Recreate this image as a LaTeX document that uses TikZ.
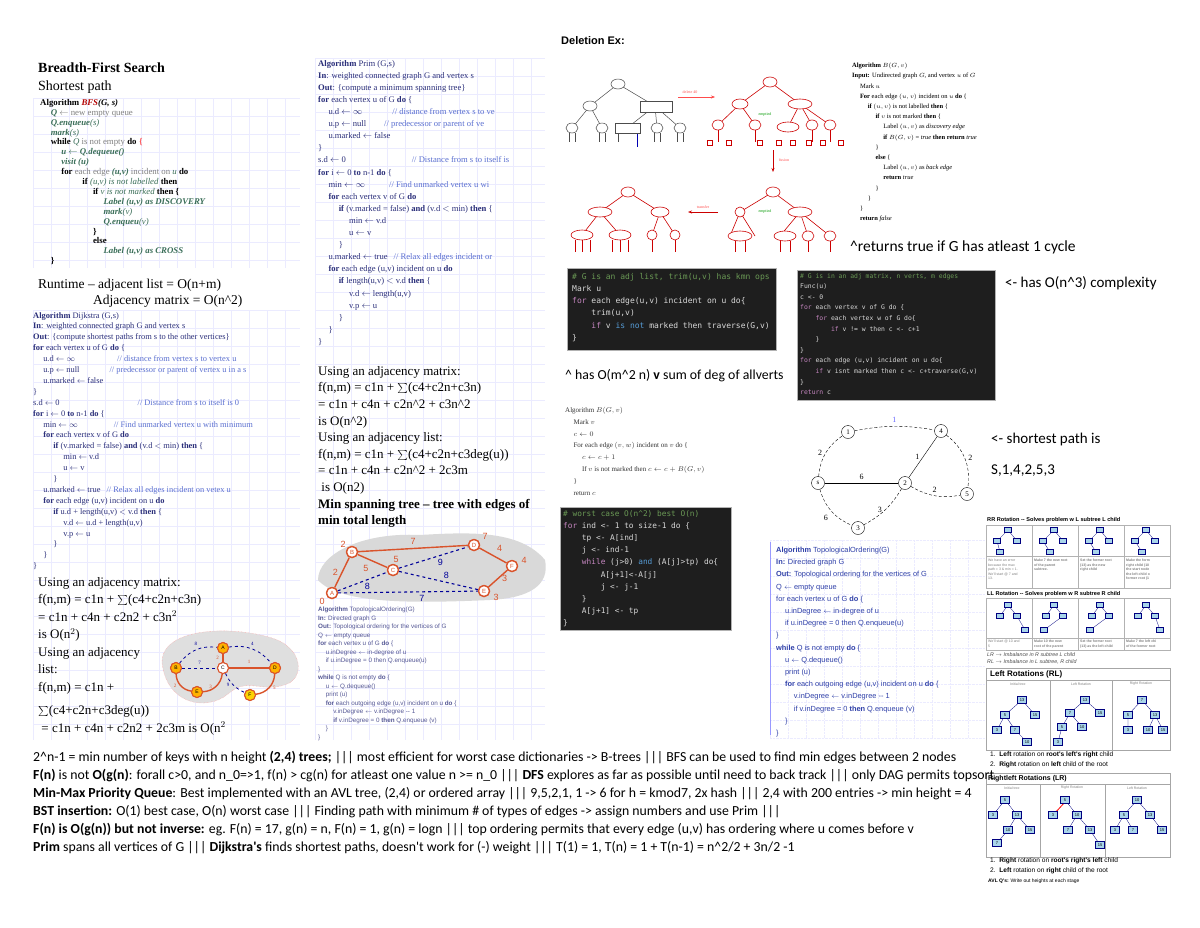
\documentclass[tikz,border=0pt]{standalone}
\usepackage{fontspec}
\setmainfont{Liberation Serif}
\newfontfamily\calfont{Carlito}
\newfontfamily\lsans{Liberation Sans}
\newfontfamily\mono{DejaVu Sans Mono}
\usetikzlibrary{arrows.meta}
\definecolor{navy}{HTML}{2B2F7A}
\definecolor{cmt}{HTML}{5A6FD0}
\definecolor{bfsg}{HTML}{3A6E58}
\definecolor{codebg}{HTML}{1E1E1E}
\definecolor{cgreen}{HTML}{6A9955}
\definecolor{ckey}{HTML}{C586C0}
\definecolor{cblue}{HTML}{569CD6}
\definecolor{corange}{HTML}{D9532B}
\definecolor{dblue}{HTML}{2E3FA8}
\definecolor{avlfill}{HTML}{A9D5EA}
\newcommand\ind{\hspace*{1.2em}}
\tikzset{
 txt/.style={anchor=north west,inner sep=0,align=left},
 grid/.style={draw=blue!8,line width=0.4pt},
 code/.style={fill=codebg,draw=gray!60},
 ctxt/.style={txt,text=white!85!black,font=\mono\fontsize{8}{12.2}\selectfont},
 gv/.style={circle,draw,inner sep=0,minimum size=13pt,font=\fontsize{7}{7}\selectfont},
 mv/.style={circle,draw=corange,line width=1.3pt,fill=white,inner sep=0,minimum size=11pt,font=\lsans\fontsize{6}{6}\selectfont,text=corange},
 lv/.style={circle,draw=corange,line width=1pt,fill=orange!60!yellow,inner sep=0,minimum size=11pt,font=\lsans\fontsize{5}{5}\selectfont},
 oe/.style={draw=corange,line width=1.4pt},
 be/.style={draw=blue!60!black,dashed,line width=1.1pt},
 ol/.style={font=\lsans\fontsize{7}{7}\selectfont,text=corange},
 bl/.style={font=\lsans\fontsize{7}{7}\selectfont,text=blue!60!black},
 avl/.style={draw=blue!50!black,fill=avlfill,inner sep=0,minimum width=9pt,minimum height=7pt,font=\lsans\fontsize{4}{4}\selectfont},
 rt/.style={draw=red!80!black,line width=0.6pt},
 bt/.style={draw=black!70,line width=0.5pt},
 note/.style={txt,font=\calfont\fontsize{14.5}{14.5}\selectfont},
}
\begin{document}
\begin{tikzpicture}[x=1pt,y=-1pt]
\useasboundingbox (0,0) rectangle (1200,927);
\fill[white] (0,0) rectangle (1200,927);
% ---------- grids
\begin{scope}
\clip (33,98) rectangle (300,268);
\foreach \i in {0,...,16} {\draw[grid] (33+18*\i,98) -- (33+18*\i,268);}
\foreach \i in {0,...,10} {\draw[grid] (33,98+18*\i) -- (300,98+18*\i);}
\end{scope}
\begin{scope}
\clip (33,310) rectangle (300,740);
\foreach \i in {0,...,16} {\draw[grid] (33+18*\i,310) -- (33+18*\i,740);}
\foreach \i in {0,...,24} {\draw[grid] (33,310+18*\i) -- (300,310+18*\i);}
\end{scope}
\begin{scope}
\clip (315,58) rectangle (545,740);
\foreach \i in {0,...,13} {\draw[grid] (315+18*\i,58) -- (315+18*\i,740);}
\foreach \i in {0,...,38} {\draw[grid] (315,58+18*\i) -- (545,58+18*\i);}
\end{scope}
\begin{scope}
\clip (770,540) rectangle (985,738);
\foreach \i in {0,...,12} {\draw[grid,densely dotted] (770+18*\i,540) -- (770+18*\i,738);}
\foreach \i in {0,...,11} {\draw[grid,densely dotted] (770,540+18*\i) -- (985,540+18*\i);}
\end{scope}
% ---------- BFS
\node[txt,font=\bfseries\fontsize{14}{14}\selectfont] (bfsh) at (38,63) {Breadth-First Search};
\node[txt,font=\fontsize{14}{14}\selectfont] (bfss) at (38,81) {Shortest path};
\node[txt,font=\fontsize{8.8}{9.9}\selectfont,text=gray] (bfs) at (40,99) {%
\textcolor{black}{\textbf{Algorithm} \textcolor{red!70!black}{\textbf{\textit{BFS}}}\textbf{\textit{(G, s)}}}\\
\ind\textcolor{bfsg}{\textbf{\textit{Q}}} $\leftarrow$ new empty queue\\
\ind\textcolor{bfsg}{\textbf{\textit{Q.enqueue}}\textit{(s)}}\\
\ind\textcolor{bfsg}{\textbf{\textit{mark}}\textit{(s)}}\\
\ind\textcolor{black}{\textbf{while}} \textcolor{bfsg}{\textit{Q}} is not empty \textcolor{black}{\textbf{do}} \textcolor{red}{\{}\\
\ind\ind\textcolor{bfsg}{\textbf{\textit{u $\leftarrow$ Q.dequeue()}}}\\
\ind\ind\textcolor{bfsg}{\textbf{\textit{visit (u)}}}\\
\ind\ind\textcolor{black}{\textbf{for}} each edge \textcolor{bfsg}{\textbf{\textit{(u,v)}}} incident on \textcolor{bfsg}{\textit{u}} \textcolor{black}{\textbf{do}}\\
\ind\ind\ind\ind\textcolor{black}{\textbf{if}} \textcolor{bfsg}{\textit{(u,v) is not labelled}} \textcolor{black}{\textbf{then}}\\
\ind\ind\ind\ind\ind\textcolor{black}{\textbf{if}} \textcolor{bfsg}{\textit{v is not marked}} \textcolor{black}{\textbf{then \{}}\\
\ind\ind\ind\ind\ind\ind\textcolor{bfsg}{\textbf{\textit{Label (u,v) as DISCOVERY}}}\\
\ind\ind\ind\ind\ind\ind\textcolor{bfsg}{\textbf{\textit{mark}}\textit{(v)}}\\
\ind\ind\ind\ind\ind\ind\textcolor{bfsg}{\textbf{\textit{Q.enqueu}}\textit{(v)}}\\
\ind\ind\ind\ind\ind\textcolor{black}{\textbf{\}}}\\
\ind\ind\ind\ind\ind\textcolor{black}{\textbf{else}}\\
\ind\ind\ind\ind\ind\ind\textcolor{bfsg}{\textbf{\textit{Label (u,v) as CROSS}}}\\
\ind\textcolor{black}{\textbf{\}}}};
\node[txt,font=\fontsize{13.5}{16}\selectfont] (rt) at (38,279) {Runtime -- adjacent list = O(n+m)\\\hspace*{55pt}Adjacency matrix = O(n\string^2)};
% ---------- Dijkstra
\node[txt,font=\fontsize{8.4}{10.9}\selectfont,text=navy] (dij) at (33,312) {%
\textbf{Algorithm} Dijkstra (G,s)\\
\textbf{In}: weighted connected graph G and vertex s\\
\textbf{Out}: \{compute shortest paths from s to the other vertices\}\\
\textbf{for} each vertex u of G \textbf{do} \{\\
\ind u.d $\leftarrow\infty$\hspace*{42pt}\textcolor{cmt}{// distance from vertex s to vertex u}\\
\ind u.p $\leftarrow$ null\hspace*{30pt}\textcolor{cmt}{// predecessor or parent of vertex u in a s}\\
\ind u.marked $\leftarrow$ false\\
\}\\
s.d $\leftarrow$ 0\hspace*{78pt}\textcolor{cmt}{// Distance from s to itself is 0}\\
\textbf{for} i $\leftarrow$ 0 \textbf{to} n-1 \textbf{do} \{\\
\ind min $\leftarrow\infty$\hspace*{36pt}\textcolor{cmt}{// Find unmarked vertex u with minimum}\\
\ind \textbf{for} each vertex v of G \textbf{do}\\
\ind\ind \textbf{if} (v.marked = false) \textbf{and} (v.d $<$ min) \textbf{then} \{\\
\ind\ind\ind min $\leftarrow$ v.d\\
\ind\ind\ind u $\leftarrow$ v\\
\ind\ind \}\\
\ind u.marked $\leftarrow$ true\hspace*{6pt}\textcolor{cmt}{// Relax all edges incident on vetex u}\\
\ind \textbf{for} each edge (u,v) incident on u \textbf{do}\\
\ind\ind \textbf{if} u.d + length(u,v) $<$ v.d \textbf{then} \{\\
\ind\ind\ind v.d $\leftarrow$ u.d + length(u,v)\\
\ind\ind\ind v.p $\leftarrow$ u\\
\ind\ind \}\\
\ind \}\\
\}};
\node[txt,font=\fontsize{13}{17.5}\selectfont] (adjl) at (38,577) {%
Using an adjacency matrix:\\
f(n,m) = c1n + $\sum$(c4+c2n+c3n)\\
= c1n + c4n + c2n2 + c3n$^2$\\
is O(n$^2$)\\
Using an adjacency\\
list:\\
f(n,m) = c1n +\\[6pt]
$\sum$(c4+c2n+c3deg(u))\\
\ = c1n + c4n + c2n2 + 2c3m is O(n$^2$};
% left graph
\fill[gray!25,draw=red!40,densely dotted] (162,662) .. controls (162,628) and (230,625) .. (272,638) .. controls (304,648) and (304,678) .. (287,684) .. controls (262,694) and (248,676) .. (228,694) .. controls (206,712) and (166,704) .. (162,662);
\node[lv] (la) at (223,648) {A};
\node[lv] (lb) at (176,668) {B};
\node[lv,fill=white] (lc) at (223,668) {C};
\node[lv] (ld) at (275,668) {D};
\node[lv] (le) at (197,692) {E};
\node[lv,fill=yellow!70!orange] (lf) at (250,695) {F};
\draw[oe] (la) -- node[ol,left,font=\fontsize{5}{5}\selectfont]{2} (lc);
\draw[oe] (lc) -- node[ol,above,font=\fontsize{5}{5}\selectfont]{1} (ld);
\draw[oe] (lb) to[bend right=40] node[ol,left,font=\fontsize{5}{5}\selectfont]{2} (le);
\draw[oe] (le) to[bend right=40] node[ol,left,font=\fontsize{5}{5}\selectfont]{3} (lc);
\draw[oe] (ld) to[bend left=40] node[ol,right,font=\fontsize{5}{5}\selectfont]{5} (lf);
\draw[be,line width=0.8pt] (lb) to[bend left=30] node[bl,above,font=\fontsize{5}{5}\selectfont]{8} (la);
\draw[be,line width=0.8pt] (la) to[bend left=30] node[bl,above,font=\fontsize{5}{5}\selectfont]{4} (ld);
\draw[be,line width=0.8pt] (lb) -- node[bl,above,font=\fontsize{5}{5}\selectfont]{7} (lc);
\draw[be,line width=0.8pt] (lc) to[bend right=20] node[bl,left,font=\fontsize{5}{5}\selectfont]{9} (lf);
\node[lv] at (la) {A};\node[lv] at (lb) {B};\node[lv,fill=white] at (lc) {C};\node[lv] at (ld) {D};\node[lv] at (le) {E};\node[lv,fill=yellow!70!orange] at (lf) {F};
% ---------- Prim
\node[txt,font=\fontsize{8.6}{12.1}\selectfont,text=navy] (prim) at (318,60) {%
\textbf{Algorithm} Prim (G,s)\\
\textbf{In}: weighted connected graph G and vertex s\\
\textbf{Out}: \{compute a minimum spanning tree\}\\
\textbf{for} each vertex u of G \textbf{do} \{\\
\ind u.d $\leftarrow\infty$\hspace*{30pt}\textcolor{cmt}{// distance from vertex s to ve}\\
\ind u.p $\leftarrow$ null\hspace*{18pt}\textcolor{cmt}{// predecessor or parent of ve}\\
\ind u.marked $\leftarrow$ false\\
\}\\
s.d $\leftarrow$ 0\hspace*{66pt}\textcolor{cmt}{// Distance from s to itself is}\\
\textbf{for} i $\leftarrow$ 0 \textbf{to} n-1 \textbf{do} \{\\
\ind min $\leftarrow\infty$\hspace*{24pt}\textcolor{cmt}{// Find unmarked vertex u wi}\\
\ind \textbf{for} each vertex v of G \textbf{do}\\
\ind\ind \textbf{if} (v.marked = false) \textbf{and} (v.d $<$ min) \textbf{then} \{\\
\ind\ind\ind min $\leftarrow$ v.d\\
\ind\ind\ind u $\leftarrow$ v\\
\ind\ind \}\\
\ind u.marked $\leftarrow$ true\hspace*{6pt}\textcolor{cmt}{// Relax all edges incident or}\\
\ind \textbf{for} each edge (u,v) incident on u \textbf{do}\\
\ind\ind \textbf{if} length(u,v) $<$ v.d \textbf{then} \{\\
\ind\ind\ind v.d $\leftarrow$ length(u,v)\\
\ind\ind\ind v.p $\leftarrow$ u\\
\ind\ind \}\\
\ind \}\\
\}};
\node[txt,font=\fontsize{13}{16.6}\selectfont] (adjm) at (318,366) {%
Using an adjacency matrix:\\
f(n,m) = c1n + $\sum$(c4+c2n+c3n)\\
= c1n + c4n + c2n\string^2 + c3n\string^2\\
is O(n\string^2)\\
Using an adjacency list:\\
f(n,m) = c1n + $\sum$(c4+c2n+c3deg(u))\\
= c1n + c4n + c2n\string^2 + 2c3m\\
\ is O(n2)\\
\textbf{Min spanning tree -- tree with edges of}\\
\textbf{min total length}};
% MST graph
\fill[gray!30] (318,580) .. controls (318,555) and (360,532) .. (420,535) .. controls (470,532) and (520,530) .. (545,560) .. controls (550,585) and (530,598) .. (490,600) .. controls (420,603) and (340,605) .. (318,580);
\node[mv] (ma) at (332,593) {A};
\node[mv] (mb) at (352,552) {B};
\node[mv] (mc) at (393,570) {C};
\node[mv] (md) at (474,545) {D};
\node[mv] (mf) at (512,566) {F};
\node[mv] (me) at (484,591) {E};
\draw[be] (ma) -- node[bl,below,pos=.6,font=\lsans\fontsize{9}{9}\selectfont]{8} (mc);
\draw[be] (mc) -- node[bl,below,pos=.6,font=\lsans\fontsize{9}{9}\selectfont]{9} (md);
\draw[be] (mc) -- node[bl,above,pos=.6,font=\lsans\fontsize{9}{9}\selectfont]{8} (me);
\draw[be] (ma) -- node[bl,below,pos=.6,font=\lsans\fontsize{9}{9}\selectfont]{7} (me);
\draw[oe] (ma) -- node[ol,left,font=\lsans\fontsize{9}{9}\selectfont]{2} (mb);
\draw[oe] (mb) -- node[ol,above,font=\lsans\fontsize{9}{9}\selectfont]{7} (md);
\draw[oe] (mb) -- node[ol,below left,font=\lsans\fontsize{9}{9}\selectfont]{5} (mc);
\draw[oe] (md) -- node[ol,above right,font=\lsans\fontsize{9}{9}\selectfont]{4} (mf);
\draw[oe] (mf) -- node[ol,right,font=\lsans\fontsize{9}{9}\selectfont]{3} (me);
\node[mv] at (ma) {A};\node[mv] at (mb) {B};\node[mv] at (mc) {C};\node[mv] at (md) {D};\node[mv] at (mf) {F};\node[mv] at (me) {E};
\node[ol,font=\lsans\fontsize{9}{9}\selectfont] at (322,601) {0};
\node[ol,font=\lsans\fontsize{9}{9}\selectfont] at (343,544) {2};
\node[ol,font=\lsans\fontsize{9}{9}\selectfont] at (396,559) {5};
\node[ol,font=\lsans\fontsize{9}{9}\selectfont] at (485,536) {7};
\node[ol,font=\lsans\fontsize{9}{9}\selectfont] at (524,560) {4};
\node[ol,font=\lsans\fontsize{9}{9}\selectfont] at (496,597) {3};
\node[txt,font=\lsans\fontsize{6.3}{8.5}\selectfont,text=navy!80] (topo1) at (318,607) {%
\textbf{Algorithm} TopologicalOrdering(G)\\
\textbf{In:} Directed graph G\\
\textbf{Out:} Topological ordering for the vertices of G\\
Q $\leftarrow$ empty queue\\
\textbf{for} each vertex u of G \textbf{do} \{\\
\ind u.inDegree $\leftarrow$ in-degree of u\\
\ind if u.inDegree = 0 then Q.enqueue(u)\\
\}\\
\textbf{while} Q is not empty \textbf{do} \{\\
\ind u $\leftarrow$ Q.dequeue()\\
\ind print (u)\\
\ind \textbf{for} each outgoing edge (u,v) incident on u \textbf{do} \{\\
\ind\ind v.inDegree $\leftarrow$ v.inDegree -- 1\\
\ind\ind \textbf{if} v.inDegree = 0 \textbf{then} Q.enqueue (v)\\
\ind \}\\
\}};
% ---------- Deletion
\node[txt,font=\lsans\bfseries\fontsize{11}{11}\selectfont] (del) at (561,36) {Deletion Ex:};
\begin{scope}[bt]
\draw (618,84) -- (590,106) (618,84) -- (655,106);
\draw (590,106) -- (572,128) (590,106) -- (602,128);
\draw (655,106) -- (627,128) (655,106) -- (657,128) (655,106) -- (680,128);
\foreach \x in {572,602,657,680} {\draw[fill=white] (\x,128) ellipse (6 and 5); \draw (\x-3,133) -- (\x-3,142) (\x+3,133) -- (\x+3,142);}
\draw[fill=white] (618,84) ellipse (7 and 5);
\draw[fill=white] (590,106) ellipse (7 and 5);
\draw[fill=white] (640,101) rectangle (672,112);
\draw[fill=white] (615,123) rectangle (640,133);
\draw (618,133) -- (618,142) (637,133) -- (637,142);
\draw[blue!70!black,line width=1pt] (637,134) -- (637,147);
\end{scope}
\draw[red!70,-{Stealth[length=4pt]}] (678,97) -- (715,97);
\node[font=\fontsize{4}{4}\selectfont,text=red!70] (dl) at (690,92) {delete 40};
\begin{scope}[rt]
\draw (770,82) -- (740,104) (770,82) -- (800,104);
\draw (740,104) -- (718,125) (740,104) -- (755,125);
\draw (800,104) -- (788,127) (800,104) -- (812,125) (800,104) -- (830,125);
\foreach \x in {718,755,812,830} {\draw[fill=white] (\x,125) ellipse (6 and 5); \draw (\x,130) -- (\x,142);}
\draw[fill=white] (770,82) ellipse (7 and 5);
\draw[fill=white] (740,104) ellipse (8 and 5);
\draw[fill=white] (800,104) ellipse (12 and 5);
\draw[fill=white] (788,127) ellipse (11 and 5);
\foreach \x in {707,726,757,776,790,806,820,838} {\draw (\x,140) rectangle (\x+5,145);}
\draw[-{Stealth[length=4pt]}] (773,150) -- (773,172);
\end{scope}
\node[font=\fontsize{4}{4}\selectfont,text=green!60!black] (er) at (765,115) {emptied};
\node[font=\fontsize{4}{4}\selectfont,text=red!70] (fu) at (784,160) {fusion};
\begin{scope}[rt]
\draw (773,192) -- (740,212) (773,192) -- (800,212);
\draw (740,212) -- (730,236) (740,212) -- (755,236);
\draw (800,212) -- (780,236) (800,212) -- (808,236) (800,212) -- (830,236);
\foreach \x in {808,830} {\draw[fill=white] (\x,236) ellipse (6 and 5); \draw (\x,241) -- (\x,252);}
\draw[fill=white] (773,192) ellipse (7 and 5);
\draw[fill=white] (740,212) ellipse (5 and 5);
\draw[fill=white] (800,212) ellipse (12 and 5);
\draw[fill=white] (740,236) ellipse (12 and 5);
\draw[fill=white] (785,236) ellipse (11 and 5);
\draw (735,241) -- (735,252) (745,241) -- (745,252) (780,241) -- (780,252) (790,241) -- (790,252);
\draw[-{Stealth[length=4pt]}] (718,212) -- (688,212);
\end{scope}
\node[font=\fontsize{4}{4}\selectfont,text=green!60!black] (em2) at (765,212) {emptied};
\node[font=\fontsize{4}{4}\selectfont,text=red!70] (tr) at (703,207) {transfer};
\begin{scope}[rt]
\draw (628,192) -- (600,212) (628,192) -- (660,212);
\draw (600,212) -- (582,235) (600,212) -- (620,235);
\draw (660,212) -- (652,235) (660,212) -- (675,235);
\draw[fill=white] (628,192) ellipse (7 and 5);
\draw[fill=white] (600,212) ellipse (12 and 5);
\draw[fill=white] (660,212) ellipse (9 and 5);
\draw[fill=white] (582,235) ellipse (11 and 5);
\draw[fill=white] (620,235) ellipse (11 and 5);
\draw[fill=white] (652,235) ellipse (5 and 5);
\draw[fill=white] (675,235) ellipse (5 and 5);
\foreach \x in {575,582,590,612,620,628,652,675} {\draw (\x,240) -- (\x,252);}
\end{scope}
% ---------- B(G,v) top right
\node[txt,font=\fontsize{6.5}{10.2}\selectfont] (bgv) at (852,63) {%
\textbf{Algorithm} $B(G,v)$\\
\textbf{Input:} Undirected graph $G$, and vertex $u$ of $G$\\
\ind Mark $u$\\
\ind \textbf{For} each edge $(u,v)$ incident on $u$ \textbf{do} \{\\
\ind\ind \textbf{if} $(u,v)$ is not labelled \textbf{then} \{\\
\ind\ind\ind \textbf{if} $v$ is not marked \textbf{then} \{\\
\ind\ind\ind\ind Label $(u,v)$ as \textit{discovery edge}\\
\ind\ind\ind\ind \textbf{if} $B(G,v)$ = \textit{true} \textbf{then return} \textit{true}\\
\ind\ind\ind \}\\
\ind\ind\ind \textbf{else} \{\\
\ind\ind\ind\ind Label $(u,v)$ as \textit{back edge}\\
\ind\ind\ind\ind \textbf{return} \textit{true}\\
\ind\ind\ind \}\\
\ind\ind \}\\
\ind \}\\
\ind \textbf{return} \textit{false}};
\node[note,font=\calfont\fontsize{15.5}{15.5}\selectfont] (cyc) at (850,241) {\string^returns true if G has atleast 1 cycle};
% ---------- code box 1
\draw[code] (567,268) rectangle (776,350);
\node[ctxt] (c1) at (572,273) {%
\textcolor{cgreen}{\# G is an adj list, trim(u,v) has kmn ops}\\
Mark u\\
\textcolor{ckey}{for} each edge(u,v) incident on u do\{\\
\ \ \ \ trim(u,v)\\
\ \ \ \ \textcolor{ckey}{if} v \textcolor{cblue}{is not} marked then traverse(G,v)\\
\}};
\node[note,font=\calfont\fontsize{13.8}{13.8}\selectfont] (mn) at (565,369) {\string^ has O(m\string^2 n) \textbf{v} sum of deg of allverts};
\node[txt,font=\fontsize{7}{11.8}\selectfont,text=black!80] (bcv) at (565,407) {%
Algorithm $B(G,v)$\\
\ind Mark $v$\\
\ind $c\leftarrow 0$\\
\ind For each edge $(v,w)$ incident on $v$ do \{\\
\ind\ind $c\leftarrow c+1$\\
\ind\ind If $v$ is not marked then $c\leftarrow c+B(G,v)$\\
\ind \}\\
\ind return $c$};
% ---------- code box 2
\draw[code] (560,507) rectangle (731,630);
\node[ctxt,font=\mono\fontsize{7.8}{12.2}\selectfont] (c2) at (563,510) {%
\textcolor{cgreen}{\# worst case O(n\string^2) best O(n)}\\
\textcolor{ckey}{for} ind <- 1 to size-1 do \{\\
\ \ \ \ tp <- A[ind]\\
\ \ \ \ j <- ind-1\\
\ \ \ \ \textcolor{ckey}{while} (j>0) \textcolor{cblue}{and} (A[j]>tp) do\{\\
\ \ \ \ \ \ \ \ A[j+1]<-A[j]\\
\ \ \ \ \ \ \ \ j <- j-1\\
\ \ \ \ \}\\
\ \ \ \ A[j+1] <- tp\\
\}};
% ---------- code box 3
\draw[code] (797,270) rectangle (995,400);
\node[ctxt,font=\mono\fontsize{6.4}{10.6}\selectfont] (c3) at (800,273) {%
\textcolor{cgreen}{\# G is in an adj matrix, n verts, m edges}\\
Func(u)\\
c <- 0\\
\textcolor{ckey}{for} each vertex v of G do \{\\
\ \ \ \ \textcolor{ckey}{for} each vertex w of G do\{\\
\ \ \ \ \ \ \ \ \textcolor{ckey}{if} v != w then c <- c+1\\
\ \ \ \ \}\\
\}\\
\textcolor{ckey}{for} each edge (u,v) incident on u do\{\\
\ \ \ \ \textcolor{ckey}{if} v isnt marked then c <- c+traverse(G,v)\\
\}\\
\textcolor{ckey}{return} c};
\node[note,font=\calfont\fontsize{15}{15}\selectfont] (n3) at (1005,276) {<- has O(n\string^3) complexity};
% ---------- shortest path graph
\node[gv] (gs) at (818,483) {s};
\node[gv] (g1) at (848,432) {1};
\node[gv] (g4) at (941,431) {4};
\node[gv] (g2) at (905,483) {2};
\node[gv] (g5) at (967,494) {5};
\node[gv] (g3) at (858,528) {3};
\begin{scope}[font=\fontsize{8}{8}\selectfont]
\draw[densely dashed] (gs) to[bend left=25] node[left]{2} (g1);
\draw[densely dashed] (g1) to[bend left=10] node[above]{\textcolor{blue!60}{1}} (g4);
\draw (g4) -- node[left]{1} (g2);
\draw[densely dashed] (g4) to[bend left=30] node[right]{2} (g5);
\draw[line width=0.9pt] (gs) -- node[above]{6} (g2);
\draw[densely dashed] (g2) to[bend right=20] node[above]{2} (g5);
\draw[densely dashed] (g2) to[bend left=15] node[left]{3} (g3);
\draw[densely dashed] (gs) to[bend right=25] node[below left]{6} (g3);
\end{scope}
\node[note,font=\calfont\fontsize{15}{15}\selectfont] (sp) at (991,433) {<- shortest path is};
\node[note,font=\calfont\fontsize{15}{15}\selectfont] (sp2) at (991,465) {S,1,4,2,5,3};
% ---------- topological blue
\draw[blue!40] (770,542) -- (770,735);
\node[txt,font=\lsans\fontsize{7.4}{12.2}\selectfont,text=dblue] (topo2) at (776,547) {%
\textbf{Algorithm} TopologicalOrdering(G)\\
\textbf{In:} Directed graph G\\
\textbf{Out:} Topological ordering for the vertices of G\\
Q $\leftarrow$ empty queue\\
for each vertex u of G \textbf{do} \{\\
\ind u.inDegree $\leftarrow$ in-degree of u\\
\ind if u.inDegree = 0 then Q.enqueue(u)\\
\}\\
\textbf{while} Q is not empty \textbf{do} \{\\
\ind u $\leftarrow$ Q.dequeue()\\
\ind print (u)\\
\ind \textbf{for} each outgoing edge (u,v) incident on u \textbf{do} \{\\
\ind\ind v.inDegree $\leftarrow$ v.inDegree -- 1\\
\ind\ind if v.inDegree = 0 \textbf{then} Q.enqueue (v)\\
\ind \}\\
\}};
% ---------- AVL panel
\node[txt,font=\lsans\bfseries\fontsize{5.6}{5.6}\selectfont] (rr) at (987,517) {RR Rotation -- Solves problem w L subtree L child};
\draw[gray!60,line width=0.3pt] (986,525) rectangle (1170,588);
\foreach \x in {1032,1078,1124} {\draw[gray!60,line width=0.3pt] (\x,525) -- (\x,588);}
\draw[gray!60,line width=0.3pt] (986,556) -- (1170,556);
\foreach \a/\b/\c/\d in {997/1008/1017/1000, 1043/1054/1063/1050, 1089/1100/1109/1096, 1135/1146/1155/1142} {
 \draw[blue!50!black,line width=0.3pt] (\b,530) -- (\a,541) (\b,530) -- (\c,541) (\a,541) -- (\d,552);
 \node[avl,minimum width=7pt,minimum height=5pt] at (\b,530) {}; \node[avl,minimum width=7pt,minimum height=5pt] at (\a,541) {};
 \node[avl,minimum width=7pt,minimum height=5pt] at (\c,541) {}; \node[avl,minimum width=7pt,minimum height=5pt] at (\d,552) {};}
\node[txt,font=\lsans\fontsize{3.5}{4.5}\selectfont,text=gray] at (988,559) {We have an error\\because the max\\path = 3 \& min = 1.\\We'll start @ 7 and\\13.};
\node[txt,font=\lsans\bfseries\fontsize{3.5}{4.5}\selectfont,text=gray] at (1034,559) {Make 7 the new root\\of the parent\\subtree.};
\node[txt,font=\lsans\bfseries\fontsize{3.5}{4.5}\selectfont,text=gray] at (1080,559) {Set the former root\\(13) as the new\\right child};
\node[txt,font=\lsans\bfseries\fontsize{3.5}{4.5}\selectfont,text=gray] at (1126,559) {Make the form\\right child (10\\the start node\\the left child o\\former root (1};
\node[txt,font=\lsans\bfseries\fontsize{5.6}{5.6}\selectfont] (ll) at (987,591) {LL Rotation -- Solves problem w R subtree R child};
\draw[gray!60,line width=0.3pt] (986,598) rectangle (1170,650);
\foreach \x in {1032,1078,1124} {\draw[gray!60,line width=0.3pt] (\x,598) -- (\x,650);}
\draw[gray!60,line width=0.3pt] (986,638) -- (1170,638);
\foreach \a/\b/\c/\d in {1000/1008/1017/1025, 1046/1054/1063/1044, 1092/1100/1109/1090, 1138/1146/1155/1160} {
 \draw[blue!50!black,line width=0.3pt] (\b,605) -- (\a,616) (\b,605) -- (\c,616) (\c,616) -- (\d,630);
 \node[avl,minimum width=7pt,minimum height=5pt] at (\b,605) {}; \node[avl,minimum width=7pt,minimum height=5pt] at (\a,616) {};
 \node[avl,minimum width=7pt,minimum height=5pt] at (\c,616) {}; \node[avl,minimum width=7pt,minimum height=5pt] at (\d,630) {};}
\node[txt,font=\lsans\fontsize{3.5}{4.5}\selectfont,text=gray] at (988,640) {We'll start @ 10 and\\5};
\node[txt,font=\lsans\bfseries\fontsize{3.5}{4.5}\selectfont,text=gray] at (1034,640) {Make 10 the new\\root of the parent};
\node[txt,font=\lsans\bfseries\fontsize{3.5}{4.5}\selectfont,text=gray] at (1080,640) {Set the former root\\(13) as the left child};
\node[txt,font=\lsans\bfseries\fontsize{3.5}{4.5}\selectfont,text=gray] at (1126,640) {Make 7 the left chi\\of the former root};
\node[txt,font=\lsans\itshape\fontsize{5.3}{7.6}\selectfont,text=black!70] (lrrl) at (987,652) {LR $\rightarrow$ Imbalance in R subtree L child\\RL $\rightarrow$ Imbalance in L subtree, R child};
\draw[gray!70,line width=0.4pt] (986,668) rectangle (1170,750);
\node[txt,font=\lsans\bfseries\fontsize{8}{8}\selectfont] (lr) at (990,670) {Left Rotations (RL)};
\draw[gray!70,line width=0.4pt] (986,680) -- (1170,680) (1050,680) -- (1050,750) (1112,680) -- (1112,750);
\node[font=\lsans\fontsize{3.5}{3.5}\selectfont,text=gray] at (1018,684) {Initial tree};
\node[font=\lsans\fontsize{3.5}{3.5}\selectfont,text=gray] at (1081,684) {Left Rotation};
\node[font=\lsans\fontsize{3.5}{3.5}\selectfont,text=gray] at (1141,684) {Right Rotation};
\draw[blue!50!black,line width=0.3pt] (1022,700) -- (1005,715) (1022,700) -- (1035,715) (1005,715) -- (997,730) (1005,715) -- (1015,730) (1015,730) -- (1027,742);
\node[avl] at (1022,700) {13};\node[avl] at (1005,715) {5};\node[avl] at (1035,715) {15};\node[avl] at (997,730) {3};\node[avl] at (1015,730) {7};\node[avl] at (1027,742) {10};
\draw[blue!50!black,line width=0.3pt] (1085,700) -- (1070,713) (1085,700) -- (1100,713) (1070,713) -- (1062,727) (1070,713) -- (1082,727) (1062,727) -- (1058,742);
\node[avl] at (1085,700) {13};\node[avl] at (1070,713) {7};\node[avl] at (1100,713) {15};\node[avl] at (1062,727) {5};\node[avl] at (1082,727) {10};\node[avl] at (1058,742) {3};
\draw[blue!50!black,line width=0.3pt] (1142,700) -- (1128,715) (1142,700) -- (1155,715) (1128,715) -- (1128,730) (1155,715) -- (1148,730) (1155,715) -- (1163,730);
\node[avl] at (1142,700) {7};\node[avl] at (1128,715) {5};\node[avl] at (1155,715) {13};\node[avl] at (1128,730) {3};\node[avl] at (1148,730) {10};\node[avl] at (1163,730) {15};
\node[txt,font=\lsans\fontsize{6.6}{9.5}\selectfont] (lrt) at (990,752) {1.\ \ \textbf{Left} rotation on \textbf{root's left's right} child\\2.\ \ \textbf{Right} rotation on \textbf{left} child of the root};
\draw[gray!70,line width=0.4pt] (986,773) rectangle (1170,857);
\node[txt,font=\lsans\bfseries\fontsize{7}{7}\selectfont] (rl) at (988,775) {Rightleft Rotations (LR)};
\draw[gray!70,line width=0.4pt] (986,784) -- (1170,784) (1040,784) -- (1040,857) (1105,784) -- (1105,857);
\node[font=\lsans\fontsize{3.5}{3.5}\selectfont,text=gray] at (1012,788) {Initial tree};
\node[font=\lsans\fontsize{3.5}{3.5}\selectfont,text=gray] at (1072,788) {Right Rotation};
\node[font=\lsans\fontsize{3.5}{3.5}\selectfont,text=gray] at (1137,788) {Left Rotation};
\draw[blue!50!black,line width=0.3pt] (1005,800) -- (993,815) (1005,800) -- (1017,815) (1017,815) -- (1008,830) (1017,815) -- (1030,830) (1008,830) -- (997,843);
\node[avl] at (1005,800) {5};\node[avl] at (993,815) {3};\node[avl] at (1017,815) {13};\node[avl] at (1008,830) {10};\node[avl] at (1030,830) {15};\node[avl] at (997,843) {7};
\draw[blue!50!black,line width=0.3pt] (1065,800) -- (1077,815) (1077,815) -- (1068,830) (1077,815) -- (1090,830) (1090,830) -- (1100,845);
\draw[red,line width=0.8pt,-{Stealth[length=3pt]}] (1065,802) -- (1055,813);
\node[avl] at (1065,800) {5};\node[avl] at (1053,815) {3};\node[avl] at (1077,815) {10};\node[avl] at (1068,830) {7};\node[avl] at (1090,830) {13};\node[avl] at (1100,845) {15};
\draw[blue!50!black,line width=0.3pt] (1137,800) -- (1124,815) (1137,800) -- (1150,815) (1124,815) -- (1115,830) (1124,815) -- (1133,830) (1150,815) -- (1162,830);
\node[avl] at (1137,800) {10};\node[avl] at (1124,815) {5};\node[avl] at (1150,815) {13};\node[avl] at (1115,830) {3};\node[avl] at (1133,830) {7};\node[avl] at (1162,830) {15};
\node[txt,font=\lsans\fontsize{6.6}{9.5}\selectfont] (rlt) at (990,858) {1.\ \ \textbf{Right} rotation on \textbf{root's right's left} child\\2.\ \ \textbf{Left} rotation on \textbf{right} child of the root};
\node[txt,font=\lsans\fontsize{5}{5}\selectfont] (avlq) at (988,879) {\textbf{AVL Q's:} Write out heights at each stage};
% ---------- bottom notes
\node[txt,font=\calfont\fontsize{13.8}{18}\selectfont] (notes) at (33,751) {%
2\string^n-1 = min number of keys with n height \textbf{(2,4) trees;} ||| most efficient for worst case dictionaries -> B-trees ||| BFS can be used to find min edges between 2 nodes\\
\textbf{F(n)} is not \textbf{O(g(n)}: forall c>0, and n\_0=>1, f(n) > cg(n) for atleast one value n >= n\_0 ||| \textbf{DFS} explores as far as possible until need to back track ||| only DAG permits topsort\\
\textbf{Min-Max Priority Queue}: Best implemented with an AVL tree, (2,4) or ordered array ||| 9,5,2,1, 1 -> 6 for h = kmod7, 2x hash ||| 2,4 with 200 entries -> min height = 4\\
\textbf{BST insertion:} O(1) best case, O(n) worst case ||| Finding path with minimum \# of types of edges -> assign numbers and use Prim |||\\
\textbf{F(n) is O(g(n)) but not inverse:} eg. F(n) = 17, g(n) = n, F(n) = 1, g(n) = logn ||| top ordering permits that every edge (u,v) has ordering where u comes before v\\
\textbf{Prim} spans all vertices of G ||| \textbf{Dijkstra's} finds shortest paths, doesn't work for (-) weight ||| T(1) = 1, T(n) = 1 + T(n-1) = n\string^2/2 + 3n/2 -1};
\end{tikzpicture}
\end{document}
